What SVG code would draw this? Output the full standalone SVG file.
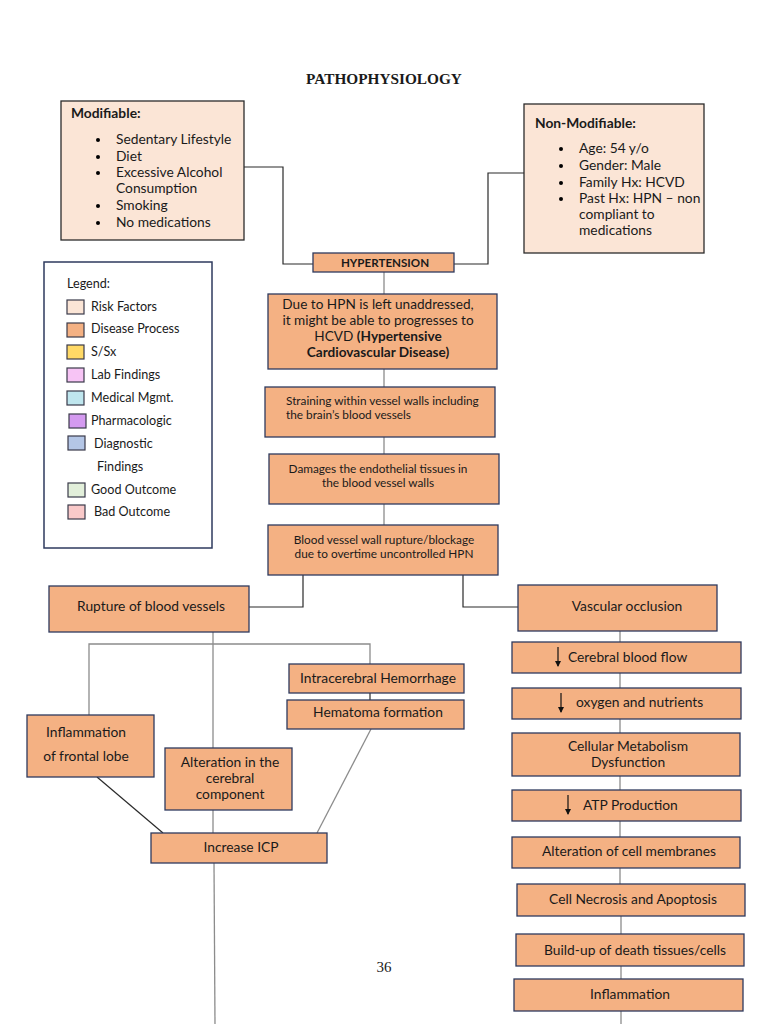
<svg xmlns="http://www.w3.org/2000/svg" width="768" height="1024" viewBox="0 0 768 1024">
<style>
text{font-family:Lato,"Open Sans","Liberation Sans",sans-serif;fill:#1a1a1a}
.rf{fill:#fbe5d6;stroke:#2b2b2b;stroke-width:1.3}
.dp{fill:#f4b183;stroke:#2e3a5e;stroke-width:1.3}
.t{font-size:13.8px}
.s{font-size:11.8px}
.m{font-size:13.6px}
.lg{font-size:12.6px}
.c{text-anchor:middle}
.b{font-weight:bold}
.dk{stroke:#2a2a2a;stroke-width:1.2;fill:none}
.gy{stroke:#8c8c8c;stroke-width:1.3;fill:none}
.sw{stroke:#3a3a4a;stroke-width:1.2}
.arr{stroke:#111;stroke-width:1.2;marker-end:url(#ah)}
</style>
<defs>
<marker id="ah" markerWidth="6" markerHeight="6" refX="5" refY="3" orient="auto" markerUnits="userSpaceOnUse">
<path d="M0,0 L6,3 L0,6 z" fill="#111"/>
</marker>
</defs>
<rect width="768" height="1024" fill="#ffffff"/>
<text x="384" y="84" text-anchor="middle" style="font-family:'Liberation Serif',serif;font-weight:bold;font-size:15.3px">PATHOPHYSIOLOGY</text>

<g id="connectors">
<polyline class="dk" points="244,167 283,167 283,264 313,264"/>
<polyline class="dk" points="454,264 488,264 488,173 524,173"/>
<line class="gy" x1="384" y1="272" x2="384" y2="294"/>
<line class="gy" x1="384" y1="369" x2="384" y2="387"/>
<line class="gy" x1="384" y1="437" x2="384" y2="454"/>
<line class="gy" x1="384" y1="504" x2="384" y2="525"/>
<polyline class="dk" points="303,575 303,607 249,607"/>
<polyline class="dk" points="463,575 463,607 518,607"/>
<line class="gy" x1="213" y1="632" x2="213" y2="748"/>
<polyline class="gy" points="89,715 89,644 370,644 370,664"/>
<line class="dk" x1="370" y1="693" x2="370" y2="700"/>
<line class="dk" x1="97" y1="777" x2="163" y2="833"/>
<line class="gy" x1="213" y1="810" x2="213" y2="833"/>
<line class="gy" x1="371" y1="729" x2="317" y2="833"/>
<line class="gy" x1="214" y1="863" x2="215" y2="1024"/>
<line class="gy" x1="620" y1="631" x2="620" y2="642"/>
<line class="gy" x1="620" y1="673" x2="620" y2="688"/>
<line class="gy" x1="620" y1="719" x2="620" y2="733"/>
<line class="gy" x1="620" y1="776" x2="620" y2="790"/>
<line class="gy" x1="620" y1="821" x2="620" y2="837"/>
<line class="gy" x1="620" y1="868" x2="620" y2="884"/>
<line class="gy" x1="621" y1="916" x2="621" y2="934"/>
<line class="gy" x1="621" y1="966" x2="621" y2="979"/>
<line class="gy" x1="621" y1="1011" x2="621" y2="1024"/>
</g>

<g id="modifiable">
<rect class="rf" x="61" y="101" width="183" height="139"/>
<text class="t b" x="71" y="118">Modifiable:</text>
<g class="t">
<circle cx="98" cy="140" r="2"/><text x="116" y="144">Sedentary Lifestyle</text>
<circle cx="98" cy="157" r="2"/><text x="116" y="161">Diet</text>
<circle cx="98" cy="173" r="2"/><text x="116" y="177">Excessive Alcohol</text>
<text x="116" y="193">Consumption</text>
<circle cx="98" cy="206" r="2"/><text x="116" y="210">Smoking</text>
<circle cx="98" cy="223" r="2"/><text x="116" y="227">No medications</text>
</g>
</g>

<g id="nonmodifiable">
<rect class="rf" x="524" y="104" width="180" height="149"/>
<text class="t b" x="535" y="128">Non-Modifiable:</text>
<g class="t">
<circle cx="561" cy="149" r="2"/><text x="579" y="153">Age: 54 y/o</text>
<circle cx="561" cy="166" r="2"/><text x="579" y="170">Gender: Male</text>
<circle cx="561" cy="183" r="2"/><text x="579" y="187">Family Hx: HCVD</text>
<circle cx="561" cy="199" r="2"/><text x="579" y="203">Past Hx: HPN – non</text>
<text x="579" y="219">compliant to</text>
<text x="579" y="235">medications</text>
</g>
</g>

<g id="hypertension">
<rect class="dp" x="313" y="253" width="141" height="19"/>
<text class="c b" x="385" y="266.5" style="font-size:11.6px">HYPERTENSION</text>
</g>

<g id="legend">
<rect x="44" y="262" width="168" height="286" fill="#ffffff" stroke="#2e3a5e" stroke-width="1.5"/>
<g class="lg">
<text x="67" y="288">Legend:</text>
<rect class="sw" x="67" y="300" width="17" height="14" fill="#fbe5d6"/><text x="91" y="311">Risk Factors</text>
<rect class="sw" x="67" y="323" width="17" height="14" fill="#f4b183"/><text x="91" y="333">Disease Process</text>
<rect class="sw" x="67" y="345" width="17" height="14" fill="#ffd966"/><text x="91" y="356">S/Sx</text>
<rect class="sw" x="67" y="368" width="17" height="14" fill="#f7c4f5"/><text x="91" y="379">Lab Findings</text>
<rect class="sw" x="67" y="391" width="17" height="14" fill="#bfe6ee"/><text x="91" y="402">Medical Mgmt.</text>
<rect class="sw" x="69" y="414" width="17" height="14" fill="#d49af0"/><text x="91" y="425">Pharmacologic</text>
<rect class="sw" x="68" y="436" width="17" height="14" fill="#b4c6e6"/><text x="94" y="448">Diagnostic</text>
<text x="97" y="471">Findings</text>
<rect class="sw" x="68" y="483" width="17" height="14" fill="#e2efda"/><text x="91" y="494">Good Outcome</text>
<rect class="sw" x="68" y="505" width="17" height="14" fill="#f9c9c9"/><text x="94" y="516">Bad Outcome</text>
</g>
</g>

<g id="hcvd">
<rect class="dp" x="268" y="294" width="229" height="75"/>
<text class="m c" x="378" y="309">Due to HPN is left unaddressed,</text>
<text class="m c" x="378" y="325">it might be able to progresses to</text>
<text class="m c" x="378" y="341">HCVD <tspan class="b">(Hypertensive</tspan></text>
<text class="m c b" x="378" y="357">Cardiovascular Disease)</text>
</g>

<g id="straining">
<rect class="dp" x="265" y="387" width="230" height="50"/>
<text class="s" x="286" y="405">Straining within vessel walls including</text>
<text class="s" x="286" y="419">the brain’s blood vessels</text>
</g>

<g id="damages">
<rect class="dp" x="269" y="454" width="230" height="50"/>
<text class="s c" x="378" y="473">Damages the endothelial tissues in</text>
<text class="s c" x="378" y="487">the blood vessel walls</text>
</g>

<g id="rupture-blockage">
<rect class="dp" x="268" y="525" width="230" height="50"/>
<text class="s c" x="384" y="544">Blood vessel wall rupture/blockage</text>
<text class="s c" x="384" y="558">due to overtime uncontrolled HPN</text>
</g>

<g id="rupture">
<rect class="dp" x="49" y="586" width="200" height="46"/>
<text class="t c" x="151" y="611">Rupture of blood vessels</text>
</g>

<g id="vascular">
<rect class="dp" x="518" y="585" width="199" height="46"/>
<text class="t c" x="627" y="611">Vascular occlusion</text>
</g>

<g id="intracerebral">
<rect class="dp" x="289" y="664" width="175" height="29"/>
<text class="t c" x="378" y="683">Intracerebral Hemorrhage</text>
</g>

<g id="hematoma">
<rect class="dp" x="287" y="700" width="177" height="29"/>
<text class="t c" x="378" y="717">Hematoma formation</text>
</g>

<g id="inflammation-frontal">
<rect class="dp" x="27" y="715" width="127" height="62"/>
<text class="t c" x="86" y="737">Inflammation</text>
<text class="t c" x="86" y="761">of frontal lobe</text>
</g>

<g id="alteration-cerebral">
<rect class="dp" x="165" y="748" width="127" height="62"/>
<text class="t c" x="230" y="767">Alteration in the</text>
<text class="t c" x="230" y="783">cerebral</text>
<text class="t c" x="230" y="799">component</text>
</g>

<g id="icp">
<rect class="dp" x="151" y="833" width="176" height="30"/>
<text class="t c" x="241" y="852">Increase ICP</text>
</g>

<g id="cbf">
<rect class="dp" x="512" y="642" width="229" height="31"/>
<line class="arr" x1="558" y1="647" x2="558" y2="666"/>
<text class="t" x="568" y="662">Cerebral blood flow</text>
</g>

<g id="oxygen">
<rect class="dp" x="512" y="688" width="229" height="31"/>
<line class="arr" x1="561" y1="693" x2="561" y2="712"/>
<text class="t" x="576" y="707">oxygen and nutrients</text>
</g>

<g id="metabolism">
<rect class="dp" x="512" y="733" width="228" height="43"/>
<text class="t c" x="628" y="751">Cellular Metabolism</text>
<text class="t c" x="628" y="767">Dysfunction</text>
</g>

<g id="atp">
<rect class="dp" x="512" y="790" width="229" height="31"/>
<line class="arr" x1="568" y1="795" x2="568" y2="814"/>
<text class="t" x="583" y="810">ATP Production</text>
</g>

<g id="membranes">
<rect class="dp" x="512" y="837" width="228" height="31"/>
<text class="t c" x="629" y="856">Alteration of cell membranes</text>
</g>

<g id="necrosis">
<rect class="dp" x="517" y="884" width="228" height="32"/>
<text class="t c" x="633" y="904">Cell Necrosis and Apoptosis</text>
</g>

<g id="buildup">
<rect class="dp" x="516" y="934" width="228" height="32"/>
<text class="t c" x="635" y="955">Build-up of death tissues/cells</text>
</g>

<g id="inflammation">
<rect class="dp" x="514" y="979" width="229" height="32"/>
<text class="t c" x="630" y="999">Inflammation</text>
</g>

<text x="384" y="972" text-anchor="middle" style="font-family:'Liberation Serif',serif;font-size:15px">36</text>
</svg>
